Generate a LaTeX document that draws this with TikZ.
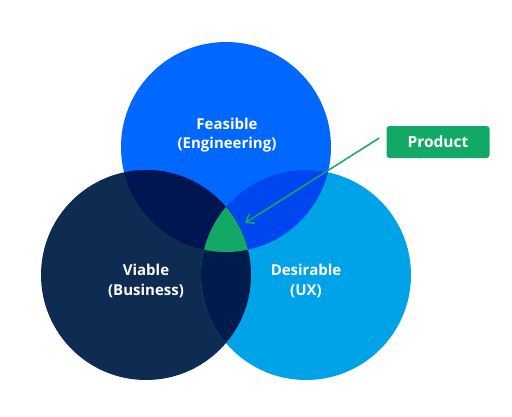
\documentclass[tikz,border=0pt]{standalone}
\usepackage{fontspec}
\setmainfont{Open Sans}
\usetikzlibrary{arrows.meta}
\definecolor{cTop}{RGB}{0,104,255}
\definecolor{cLeft}{RGB}{14,43,82}
\definecolor{cRight}{RGB}{0,163,232}
\definecolor{cTL}{RGB}{0,22,82}
\definecolor{cLR}{RGB}{0,28,76}
\definecolor{cTR}{RGB}{0,70,238}
\definecolor{cGreen}{RGB}{18,168,102}
\tikzset{
  lbl/.style={text=white, font=\bfseries\fontsize{15}{19.5}\selectfont, align=center},
  prodbox/.style={fill=cGreen, rounded corners=3pt, minimum width=103pt, minimum height=32pt, text=white, font=\bfseries\fontsize{15.5}{18}\selectfont},
  ptr/.style={draw=cGreen, line width=1.5pt, -{Straight Barb[length=7pt,width=11pt]}}
}
\begin{document}
\begin{tikzpicture}[x=1pt,y=-1pt]
\useasboundingbox (0,0) rectangle (512,416);
\def\R{105}
\coordinate (T) at (226,147);
\coordinate (L) at (146,275);
\coordinate (D) at (306,275);
\fill[cTop] (T) circle (\R);
\fill[cLeft] (L) circle (\R);
\fill[cRight] (D) circle (\R);
\begin{scope}
  \clip (T) circle (\R);
  \fill[cTL] (L) circle (\R);
  \fill[cTR] (D) circle (\R);
\end{scope}
\begin{scope}
  \clip (L) circle (\R);
  \fill[cLR] (D) circle (\R);
  \clip (D) circle (\R);
  \fill[cGreen] (T) circle (\R);
\end{scope}
\node[lbl] (feas) at (227,135) {Feasible\\(Engineering)};
\node[lbl] (viab) at (146,281) {Viable\\(Business)};
\node[lbl] (desi) at (306,281) {Desirable\\(UX)};
\node[prodbox] (prod) at (438,142) {Product};
\coordinate (tip) at (245,223);
\draw[ptr] ([xshift=-7pt,yshift=4pt]prod.west) -- (tip);
\end{tikzpicture}
\end{document}
